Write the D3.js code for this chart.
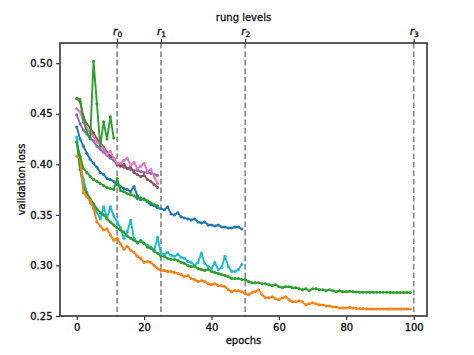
<!DOCTYPE html>
<html><head><meta charset="utf-8">
<script src="https://cdn.jsdelivr.net/npm/d3@7"></script>
<style>
body{margin:0;background:#fff;}
text{font-family:"DejaVu Sans",sans-serif;}
</style></head>
<body><svg id="c" width="474" height="355"></svg>
<script>
const yTicks = [0.25, 0.30, 0.35, 0.40, 0.45, 0.50];
const xTicks = [0, 20, 40, 60, 80, 100];
const rungs = [12, 25, 50, 100];
const rungLabels = ["0", "1", "2", "3"];

const blueVals = [0.437,0.425,0.418,0.411,0.405,0.401,0.397,0.392,0.390,0.386,0.385,0.383,0.380,0.378,0.376,0.375,0.373,0.378,0.369,0.365,0.366,0.363,0.360,0.359,0.357,0.356,0.355,0.358,0.351,0.350,0.352,0.348,0.347,0.346,0.345,0.346,0.343,0.342,0.343,0.340,0.340,0.339,0.340,0.338,0.338,0.337,0.337,0.338,0.338,0.336];
const cyanVals = [0.427,0.400,0.385,0.372,0.362,0.358,0.352,0.346,0.358,0.347,0.358,0.349,0.343,0.337,0.327,0.333,0.345,0.327,0.322,0.325,0.322,0.320,0.318,0.315,0.328,0.312,0.311,0.313,0.310,0.309,0.311,0.308,0.307,0.304,0.303,0.300,0.303,0.312,0.302,0.299,0.297,0.303,0.296,0.298,0.309,0.299,0.294,0.294,0.296,0.301];
const greenLongVals = [0.422,0.395,0.377,0.372,0.366,0.361,0.356,0.352,0.350,0.346,0.343,0.340,0.337,0.335,0.333,0.329,0.327,0.325,0.323,0.324,0.322,0.318,0.317,0.314,0.312,0.309,0.309,0.307,0.306,0.306,0.305,0.303,0.302,0.300,0.299,0.299,0.297,0.296,0.295,0.296,0.294,0.293,0.292,0.291,0.290,0.289,0.287,0.287,0.287,0.286,0.286,0.284,0.283,0.283,0.283,0.282,0.282,0.281,0.280,0.281,0.279,0.278,0.279,0.279,0.278,0.278,0.277,0.276,0.277,0.275,0.277,0.277,0.276,0.276,0.275,0.276,0.275,0.274,0.275,0.274,0.274,0.2745,0.274,0.2738,0.2736,0.2736,0.2735,0.2735,0.2735,0.2734,0.2734,0.2734,0.2734,0.2733,0.2733,0.2733,0.2733,0.2733,0.2733,0.2733];
const orangeVals = [0.408,0.407,0.372,0.368,0.364,0.356,0.343,0.339,0.335,0.336,0.330,0.325,0.327,0.321,0.316,0.319,0.315,0.313,0.309,0.307,0.303,0.304,0.303,0.300,0.297,0.295,0.295,0.294,0.294,0.293,0.292,0.291,0.289,0.290,0.287,0.286,0.284,0.285,0.284,0.282,0.281,0.282,0.280,0.280,0.279,0.276,0.274,0.275,0.275,0.274,0.272,0.271,0.273,0.274,0.276,0.271,0.268,0.268,0.269,0.267,0.266,0.268,0.269,0.266,0.264,0.264,0.265,0.264,0.261,0.262,0.263,0.262,0.261,0.261,0.260,0.260,0.259,0.259,0.258,0.258,0.258,0.2585,0.258,0.2575,0.2572,0.2572,0.257,0.257,0.257,0.2569,0.2569,0.2569,0.2568,0.2568,0.2568,0.2568,0.2568,0.2568,0.2568,0.2568];
const greenShortVals = [0.422,0.408,0.396,0.392,0.388,0.385,0.383,0.381,0.379,0.377,0.376,0.375,0.386,0.374,0.373,0.371,0.370,0.369,0.366,0.367,0.365,0.364,0.362,0.360,0.359];
const purpleVals = [0.449,0.440,0.434,0.430,0.426,0.423,0.418,0.415,0.412,0.409,0.406,0.404,0.400,0.399,0.397,0.396,0.395,0.394,0.394,0.393,0.392,0.392,0.391,0.390,0.389];
const brownVals = [0.465,0.462,0.447,0.440,0.436,0.431,0.425,0.421,0.417,0.412,0.408,0.406,0.400,0.398,0.400,0.396,0.397,0.392,0.390,0.388,0.389,0.385,0.383,0.380,0.377];
const pinkVals = [0.455,0.452,0.442,0.436,0.431,0.428,0.422,0.420,0.415,0.410,0.413,0.406,0.401,0.401,0.404,0.406,0.399,0.402,0.396,0.398,0.401,0.393,0.395,0.388,0.381];
const greenSpikeVals = [0.465,0.464,0.444,0.432,0.425,0.502,0.460,0.418,0.442,0.425,0.447,0.426];

const seriesList = [
  {vals: blueVals, color: "#1f77b4"},
  {vals: cyanVals, color: "#17becf"},
  {vals: greenLongVals, color: "#2ca02c"},
  {vals: orangeVals, color: "#ff7f0e"},
  {vals: greenShortVals, color: "#2ca02c"},
  {vals: purpleVals, color: "#9467bd"},
  {vals: brownVals, color: "#8c564b"},
  {vals: pinkVals, color: "#e377c2"},
  {vals: greenSpikeVals, color: "#2ca02c"}
];

const svg = d3.select("#c");
const L = 60, R = 427, T = 43, B = 316;
const x = d3.scaleLinear().domain([-4.95, 103.95]).range([L, R]);
const y = d3.scaleLinear().domain([0.25, 0.52]).range([B, T]);

// dashed rung lines
svg.append("g").selectAll("line").data(rungs).join("line")
  .attr("x1", d => x(d)).attr("x2", d => x(d)).attr("y1", T).attr("y2", B)
  .attr("stroke", "#8c8c8c").attr("stroke-width", 1.7).attr("stroke-dasharray", "5.5,3");

const line = d3.line().x((d, i) => x(i)).y(d => y(d));
const g = svg.append("g");
seriesList.forEach(s => {
  g.append("path").datum(s.vals).attr("d", line).attr("fill", "none")
    .attr("stroke", s.color).attr("stroke-width", 1.9).attr("stroke-linejoin", "round");
  g.append("g").selectAll("circle").data(s.vals).join("circle")
    .attr("cx", (d, i) => x(i)).attr("cy", d => y(d)).attr("r", 1.5).attr("fill", s.color);
});

// axes
const fmt = d3.format(".2f");
const ax = svg.append("g").attr("transform", `translate(0,${B})`)
  .call(d3.axisBottom(x).tickValues(xTicks).tickSize(4).tickPadding(3.5));
const ay = svg.append("g").attr("transform", `translate(${L},0)`)
  .call(d3.axisLeft(y).tickValues(yTicks).tickFormat(fmt).tickSize(4).tickPadding(3.5));
const at = svg.append("g").attr("transform", `translate(0,${T})`)
  .call(d3.axisTop(x).tickValues(rungs).tickFormat("").tickSize(4));
[ax, ay, at].forEach(a => {
  a.select(".domain").remove();
  a.selectAll(".tick line").attr("stroke", "#222").attr("stroke-width", 1.1);
  a.selectAll(".tick text").attr("font-size", 10).attr("fill", "#111")
    .attr("stroke", "#111").attr("stroke-width", 0.35).attr("font-family", "DejaVu Sans");
});
// top rung labels with subscripts
at.selectAll(".tick").each(function(d, i) {
  const t = d3.select(this).append("text").attr("y", -8.5).attr("text-anchor", "middle")
    .attr("fill", "#111").attr("stroke", "#111").attr("stroke-width", 0.35)
    .attr("font-size", 10.5).attr("font-family", "DejaVu Sans");
  t.append("tspan").attr("font-style", "italic").text("r");
  t.append("tspan").attr("font-size", 7.5).attr("dy", 2.5).text(rungLabels[i]);
});

// frame
svg.append("rect").attr("x", L).attr("y", T).attr("width", R - L).attr("height", B - T)
  .attr("fill", "none").attr("stroke", "#333").attr("stroke-width", 1.6);

const labelStyle = sel => sel.attr("font-size", 10).attr("fill", "#111")
  .attr("stroke", "#111").attr("stroke-width", 0.3);
svg.append("text").attr("x", (L + R) / 2).attr("y", 344).attr("text-anchor", "middle")
  .call(labelStyle).text("epochs");
svg.append("text").attr("transform", `translate(25,${(T + B) / 2}) rotate(-90)`)
  .attr("text-anchor", "middle").call(labelStyle).text("validation loss");
svg.append("text").attr("x", (L + R) / 2).attr("y", 21).attr("text-anchor", "middle")
  .call(labelStyle).text("rung levels");
</script></body></html>
